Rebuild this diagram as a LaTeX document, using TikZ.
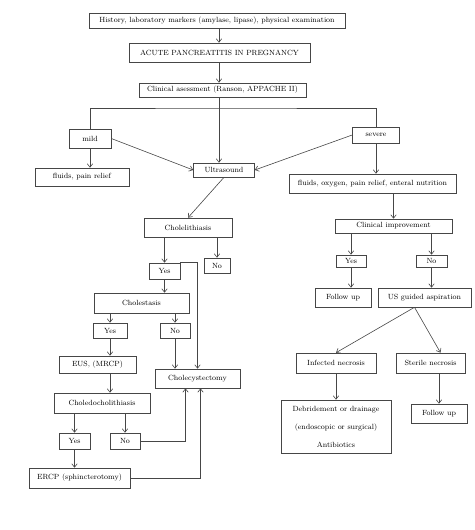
\documentclass[tikz,border=0pt]{standalone}
\usepackage{xcolor}
\definecolor{linkcolor}{RGB}{70, 70, 70}
\usepackage{tikz}
\usetikzlibrary{arrows.meta, calc}

\begin{document}
\begin{tikzpicture}[
    x=1pt, y=-1pt,
    box/.style={draw=linkcolor, line width=0.6pt, inner sep=1pt,
      font=\fontsize{7.5}{9}\selectfont, align=center},
    link/.style={draw=linkcolor, line width=0.6pt},
    tip/.style={-{Straight Barb[length=3.5pt,width=5.5pt]}}
  ]
  \useasboundingbox (0,0) rectangle (474,530);
  % top of the chart
  \node[box, minimum width=256, minimum height=15] (hist) at (217,20.5)
    {History, laboratory markers (amylase, lipase), physical examination};
  \node[box, minimum width=181, minimum height=19] (acute) at (219.5,52.5)
    {ACUTE PANCREATITIS IN PREGNANCY};
  \node[box, minimum width=167, minimum height=14] (assess) at (222.5,90)
    {Clinical asessment (Ranson, APPACHE II)};
  \node[box, minimum width=42, minimum height=19] (mild) at (90,138.5) {mild};
  \node[box, minimum width=47, minimum height=16] (severe) at (376,135) {severe};
  \node[box, minimum width=61, minimum height=14] (us) at (224,170) {Ultrasound};
  \node[box, minimum width=94, minimum height=18] (fluidsA) at (82,177)
    {fluids, pain relief};
  \node[box, minimum width=167, minimum height=19] (fluidsB) at (372.5,183.5)
    {fluids, oxygen, pain relief, enteral nutrition};
  % left branch
  \node[box, minimum width=88, minimum height=19] (chole) at (188,227.5) {Cholelithiasis};
  \node[box, minimum width=31, minimum height=16] (yesA) at (164.5,271) {Yes};
  \node[box, minimum width=26, minimum height=15] (noA) at (217,265.5) {No};
  \node[box, minimum width=95, minimum height=20] (stasis) at (141.5,303) {Cholestasis};
  \node[box, minimum width=34, minimum height=15] (yesB) at (110,330.5) {Yes};
  \node[box, minimum width=30, minimum height=15] (noB) at (175,330.5) {No};
  \node[box, minimum width=77, minimum height=17] (eus) at (97.5,364.5) {EUS, (MRCP)};
  \node[box, minimum width=85, minimum height=19] (ectomy) at (197.5,378.5) {Cholecystectomy};
  \node[box, minimum width=96, minimum height=20] (docho) at (102,403) {Choledocholithiasis};
  \node[box, minimum width=31, minimum height=16] (yesC) at (74.5,441) {Yes};
  \node[box, minimum width=30, minimum height=16] (noC) at (125,441) {No};
  \node[box, minimum width=101, minimum height=20] (ercp) at (79.5,478) {ERCP (sphincterotomy)};
  % right branch
  \node[box, minimum width=117, minimum height=14] (improve) at (393.5,226) {Clinical improvement};
  \node[box, minimum width=30, minimum height=12] (yesD) at (351,261) {Yes};
  \node[box, minimum width=31, minimum height=12] (noD) at (431.5,261) {No};
  \node[box, minimum width=56, minimum height=19] (followA) at (343,297.5) {Follow up};
  \node[box, minimum width=93, minimum height=19] (aspir) at (424.5,297.5) {US guided aspiration};
  \node[box, minimum width=80, minimum height=20] (infect) at (336,363) {Infected necrosis};
  \node[box, minimum width=69, minimum height=20] (sterile) at (430.5,363) {Sterile necrosis};
  \node[box, minimum width=110, minimum height=53] (debride) at (336,426.5)
    {Debridement or drainage\\[9pt](endoscopic or surgical)\\[9pt]Antibiotics};
  \node[box, minimum width=56, minimum height=19] (followB) at (439,413.5) {Follow up};
  \coordinate (fork) at (219,108);

  \path[tip, every edge/.append style={link}]
    (hist.south -| fork) edge (fork |- acute.north)
    (acute.south -| fork) edge (fork |- assess.north)
    (assess.south -| fork) edge (fork |- us.north)
    (mild) edge (mild |- fluidsA.north)
    (mild.east) edge (us.west)
    (severe.west) edge (us.east)
    (severe) edge (severe |- fluidsB.north)
    (us.south) edge (chole.north)
    (yesA.north |- chole.south) edge (yesA.north)
    (noA.north |- chole.south) edge (noA.north)
    (yesA) edge (yesA |- stasis.north)
    (yesB.north |- stasis.south) edge (yesB.north)
    (noB.north |- stasis.south) edge (noB.north)
    (yesB.south) edge (yesB.south |- eus.north)
    (noB.south) edge (noB.south |- ectomy.north)
    (eus.south -| yesB) edge (yesB |- docho.north)
    (yesC.north |- docho.south) edge (yesC.north)
    (noC.north |- docho.south) edge (noC.north)
    (yesC) edge (yesC |- ercp.north)
    (fluidsB.south -| improve) edge (improve)
    (yesD.north |- improve.south) edge (yesD.north)
    (noD.north |- improve.south) edge (noD.north)
    (yesD.south) edge (yesD.south |- followA.north)
    (noD.south) edge (noD.south |- aspir.north)
    ([xshift=-10pt]aspir.south) edge (infect.north)
    ([xshift=-10pt]aspir.south) edge ([xshift=10pt]sterile.north)
    (infect) edge (debride)
    (followB.north |- sterile.south) edge (followB.north)
    ;
  \draw[link] (mild.north) |- (fork) -| (severe.north);
  \draw[link, tip] (yesA.north east) -| (ectomy.north);
  \draw[link, tip] (noC.east) -| ([xshift=-12pt]ectomy.south);
  \draw[link, tip] (ercp.east) -| ([xshift=3pt]ectomy.south);
\end{tikzpicture}
\end{document}
